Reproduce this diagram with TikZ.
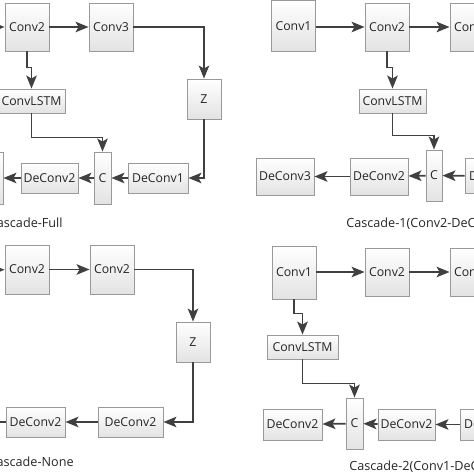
\documentclass[tikz,border=0pt]{standalone}
\usepackage{fontspec}
\setmainfont{Open Sans}
\usepackage{tikz}
\usetikzlibrary{arrows.meta,shadows}

\tikzset{
  blk/.style 2 args={draw=gray!80, line width=0.5pt, top color=white, bottom color=gray!22,
    minimum width=#1*0.2mm, minimum height=#2*0.2mm, inner sep=0pt, text=black!85,
    font=\fontsize{7}{8}\selectfont,
    drop shadow={shadow xshift=0.5pt, shadow yshift=-0.5pt, opacity=0.2}},
  flow/.style={draw=black!75, line width=1pt, -{Stealth[length=2.6mm,width=2.1mm,inset=0.6mm]}},
  captxt/.style={font=\fontsize{7.2}{8}\selectfont, text=black!85, inner sep=0pt},
}

\begin{document}
\begin{tikzpicture}[x=0.2mm,y=-0.2mm]
			\useasboundingbox (0,0) rectangle (474,474);
			\clip (0,0) rectangle (474,474);
			% % % % % % % % % % % % % % %
			%Cascade-Full
			\coordinate (ina) at (-20,27);
			\node[blk={44}{48}] (conv2a) at (27,27) {Conv2};
			\node[blk={44}{48}] (conv3a) at (111,27) {Conv3};
			\node[blk={34}{40}] (za) at (204,99) {Z};
			\node[blk={67}{24}] (lstma) at (31.5,101) {ConvLSTM};
			\node[blk={17}{52}] (ca) at (102.5,178) {C};
			\node[blk={60}{30}] (deconv1a) at (158,178) {DeConv1};
			\node[blk={57}{30}] (deconv2a) at (49.5,178) {DeConv2};
			\node[blk={60}{52}] (deconv3a) at (-27,178) {DeConv3};
			\draw[flow] (ina) -- (conv2a);
			\draw[flow] (conv2a) -- (conv3a);
			\draw[flow] (conv3a.east) -| (za.north);
			\draw[flow] (za.south) |- (deconv1a.east);
			\draw[flow] (conv2a.south) -- ++(0,16) -| (lstma.north);
			\draw[flow] (lstma.south) -- ++(0,24) -| (ca.north);
			\draw[flow] (deconv1a) -- (ca);
			\draw[flow] (ca) -- (deconv2a);
			\draw[flow] (deconv2a) -- (deconv3a);
			\node[captxt,anchor=east] (capa) at (63,223) {Cascade-Full};
			% % % % % % % % % % % % % % %
			%Cascade-1
			\node[blk={44}{51}] (conv1b) at (293.5,26) {Conv1};
			\node[blk={44}{48}] (conv2b) at (387,27) {Conv2};
			\node[blk={44}{48}] (conv3b) at (472,27) {Conv3};
			\node[blk={67}{24}] (lstmb) at (392.5,101) {ConvLSTM};
			\node[blk={16}{51}] (cb) at (434,175.5) {C};
			\node[blk={60}{35}] (deconv1b) at (495,176) {DeConv1};
			\node[blk={58}{37}] (deconv2b) at (379,176.5) {DeConv2};
			\node[blk={58}{37}] (deconv3b) at (285,176.5) {DeConv3};
			\draw[flow] (conv1b.east |- conv2b) -- (conv2b);
			\draw[flow] (conv2b) -- (conv3b);
			\draw[flow] (conv2b.south) -- ++(0,16) -| (lstmb.north);
			\draw[flow] (lstmb.south) -- ++(0,22) -| (cb.north);
			\draw[flow] (deconv1b) -- (cb);
			\draw[flow] (cb) -- (deconv2b);
			\draw[flow] (deconv2b) -- (deconv3b);
			\node[captxt,anchor=west] (capb) at (346,224) {Cascade-1(Conv2-DeConv2)};
			% % % % % % % % % % % % % % %
			%Cascade-None
			\coordinate (inc) at (-20,270);
			\coordinate (outc) at (-25,422);
			\node[blk={44}{49}] (conv2c) at (27,269.5) {Conv2};
			\node[blk={44}{49}] (conv2d) at (112,269.5) {Conv2};
			\node[blk={34}{40}] (zc) at (193,342) {Z};
			\node[blk={65}{30}] (deconv2c) at (130.5,422) {DeConv2};
			\node[blk={59}{30}] (deconv2d) at (35.5,422) {DeConv2};
			\draw[flow] (inc) -- (conv2c);
			\draw[flow] (conv2c) -- (conv2d);
			\draw[flow] (conv2d.east) -| (zc.north);
			\draw[flow] (zc.south) |- (deconv2c.east);
			\draw[flow] (deconv2c) -- (deconv2d);
			\draw[flow] (deconv2d) -- (outc);
			\node[captxt,anchor=east] (capc) at (74,462) {Cascade-None};
			% % % % % % % % % % % % % % %
			%Cascade-2
			\node[blk={44}{53}] (conv1e) at (294,272.5) {Conv1};
			\node[blk={44}{48}] (conv2e) at (387,272) {Conv2};
			\node[blk={44}{48}] (conv3e) at (472,272) {Conv3};
			\node[blk={71}{24}] (lstme) at (302.5,347) {ConvLSTM};
			\node[blk={17}{51}] (ce) at (354.5,423.5) {C};
			\node[blk={59}{31}] (deconv2e) at (292.5,424.5) {DeConv2};
			\node[blk={57}{31}] (deconv2f) at (406.5,424.5) {DeConv2};
			\node[blk={60}{31}] (deconv1e) at (490,424.5) {DeConv1};
			\draw[flow] (conv1e.east |- conv2e) -- (conv2e);
			\draw[flow] (conv2e) -- (conv3e);
			\draw[flow] (conv1e.south) -- ++(0,14) -| (lstme.north);
			\draw[flow] (lstme.south) -- ++(0,24) -| (ce.north);
			\draw[flow] (deconv1e) -- (deconv2f);
			\draw[flow] (deconv2f) -- (ce);
			\draw[flow] (ce) -- (deconv2e);
			\node[captxt,anchor=west] (cape) at (349,467) {Cascade-2(Conv1-DeConv2)};
		\end{tikzpicture}
\end{document}
